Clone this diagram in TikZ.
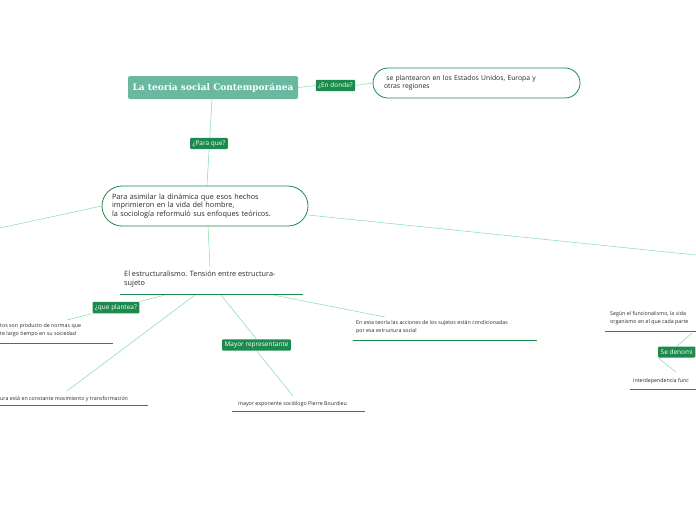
\documentclass[tikz,border=0pt]{standalone}
\usepackage{fontspec}
\setmainfont{Open Sans}
\newfontfamily\titlefont{DejaVu Serif}
\begin{document}
\begin{tikzpicture}[x=1pt,y=-1pt,
  conn/.style={draw=green!45!teal!50, line width=0.5pt},
  lab/.style={fill=labgreen, text=white, font=\fontsize{6.5}{7}\selectfont, inner sep=2.5pt, rounded corners=1pt, minimum height=11pt},
  pill/.style={draw=labgreen, line width=0.8pt, rounded corners=15pt, fill=white, text=black!85, align=left},
  small/.style={font=\fontsize{5.3}{8.5}\selectfont, text=black!85, align=left, inner sep=0pt},
  uline/.style={draw=labgreen, line width=1pt}]
\definecolor{labgreen}{HTML}{1C8A4C}
\definecolor{titlegreen}{HTML}{6AB8A0}
\useasboundingbox (0,0) rectangle (696,520);
\clip (0,0) rectangle (696,520);
% title
\node[fill=titlegreen, text=white, rounded corners=2pt, minimum width=170pt, minimum height=23pt, font=\titlefont\bfseries\fontsize{9}{10}\selectfont] (title) at (213,87.5) {La teoría social Contemporánea};
\node[pill, minimum width=207pt, minimum height=30pt, font=\fontsize{6.8}{8}\selectfont, text width=185pt] (donde) at (476.5,83) {\ se plantearon en los Estados Unidos, Europa y\\otras regiones};
\node[lab] (enD) at (335.5,85.5) {¿En donde?};
\draw[conn] (title.east) -- (enD.west) (enD.east) -- (donde.west);
% para
\node[pill, rounded corners=20pt, minimum width=206pt, minimum height=40pt, font=\fontsize{7.3}{8.5}\selectfont, text width=186pt] (para) at (205,206) {Para asimilar la dinámica que esos hechos\\imprimieron en la vida del hombre,\\la sociología reformuló sus enfoques teóricos.};
\draw[conn] (212,99) -- (207,186);
\node[lab] (paraq) at (209,143.5) {¿Para que?};
\coordinate (leftend) at (0,228);
\coordinate (rightend) at (696,255);
\draw[conn] (para.west) -- (leftend);
\draw[conn] (308,215) -- (rightend);
% estructuralismo
\node[font=\fontsize{7.3}{9}\selectfont, text=black!85, align=left, inner sep=0pt, anchor=north west] (estr) at (124,271) {El estructuralismo. Tensión entre estructura-\\sujeto};
\draw[uline] (120,294) -- (303,294);
\draw[conn] (208,226) -- (210,267);
% que plantea
\node[lab] (qp) at (116,307.5) {¿que plantea?};
\node[small, anchor=north west] (t1) at (0,323) {tos son producto de normas que\\te largo tiempo en su sociedad};
\draw[uline] (0,343) -- (113,343);
\draw[conn] (165,295) -- (qp.north east) (qp.south west) -- (67,320);
% movimiento
\node[small, anchor=west] (t2) at (0,399) {ura está en constante movimiento y transformación};
\draw[uline] (0,405) -- (148,405);
\draw[conn] (195,295) -- (67,391);
% mayor
\node[lab] (mr) at (256.5,345) {Mayor representante};
\node[small, anchor=west] (t3) at (238,404) {mayor exponente sociólogo Pierre Bourdieu};
\draw[uline] (232,411) -- (365,411);
\draw[conn] (221,295) -- (mr.north) (mr.south) -- (293,396);
% acciones
\node[small, anchor=north west] (t4) at (356,320) {En esta teoría las acciones de los sujetos están condicionadas\\por esa estructura social};
\draw[uline] (353,340) -- (537,340);
\draw[conn] (273,295) -- (385,317);
% funcionalismo
\node[small, anchor=north west] (t5) at (610,311) {Según el funcionalismo, la vida\\organismo en el que cada parte};
\draw[uline] (605,331) -- (696,331);
\node[lab, anchor=west] (sd) at (658,352) {Se denomi};
\node[small, anchor=west] (t6) at (633,381) {interdependencia func};
\draw[uline] (630,389) -- (696,389);
\draw[conn] (692,333) -- (sd.north) (sd.south west) -- (676,372);
\end{tikzpicture}
\end{document}
